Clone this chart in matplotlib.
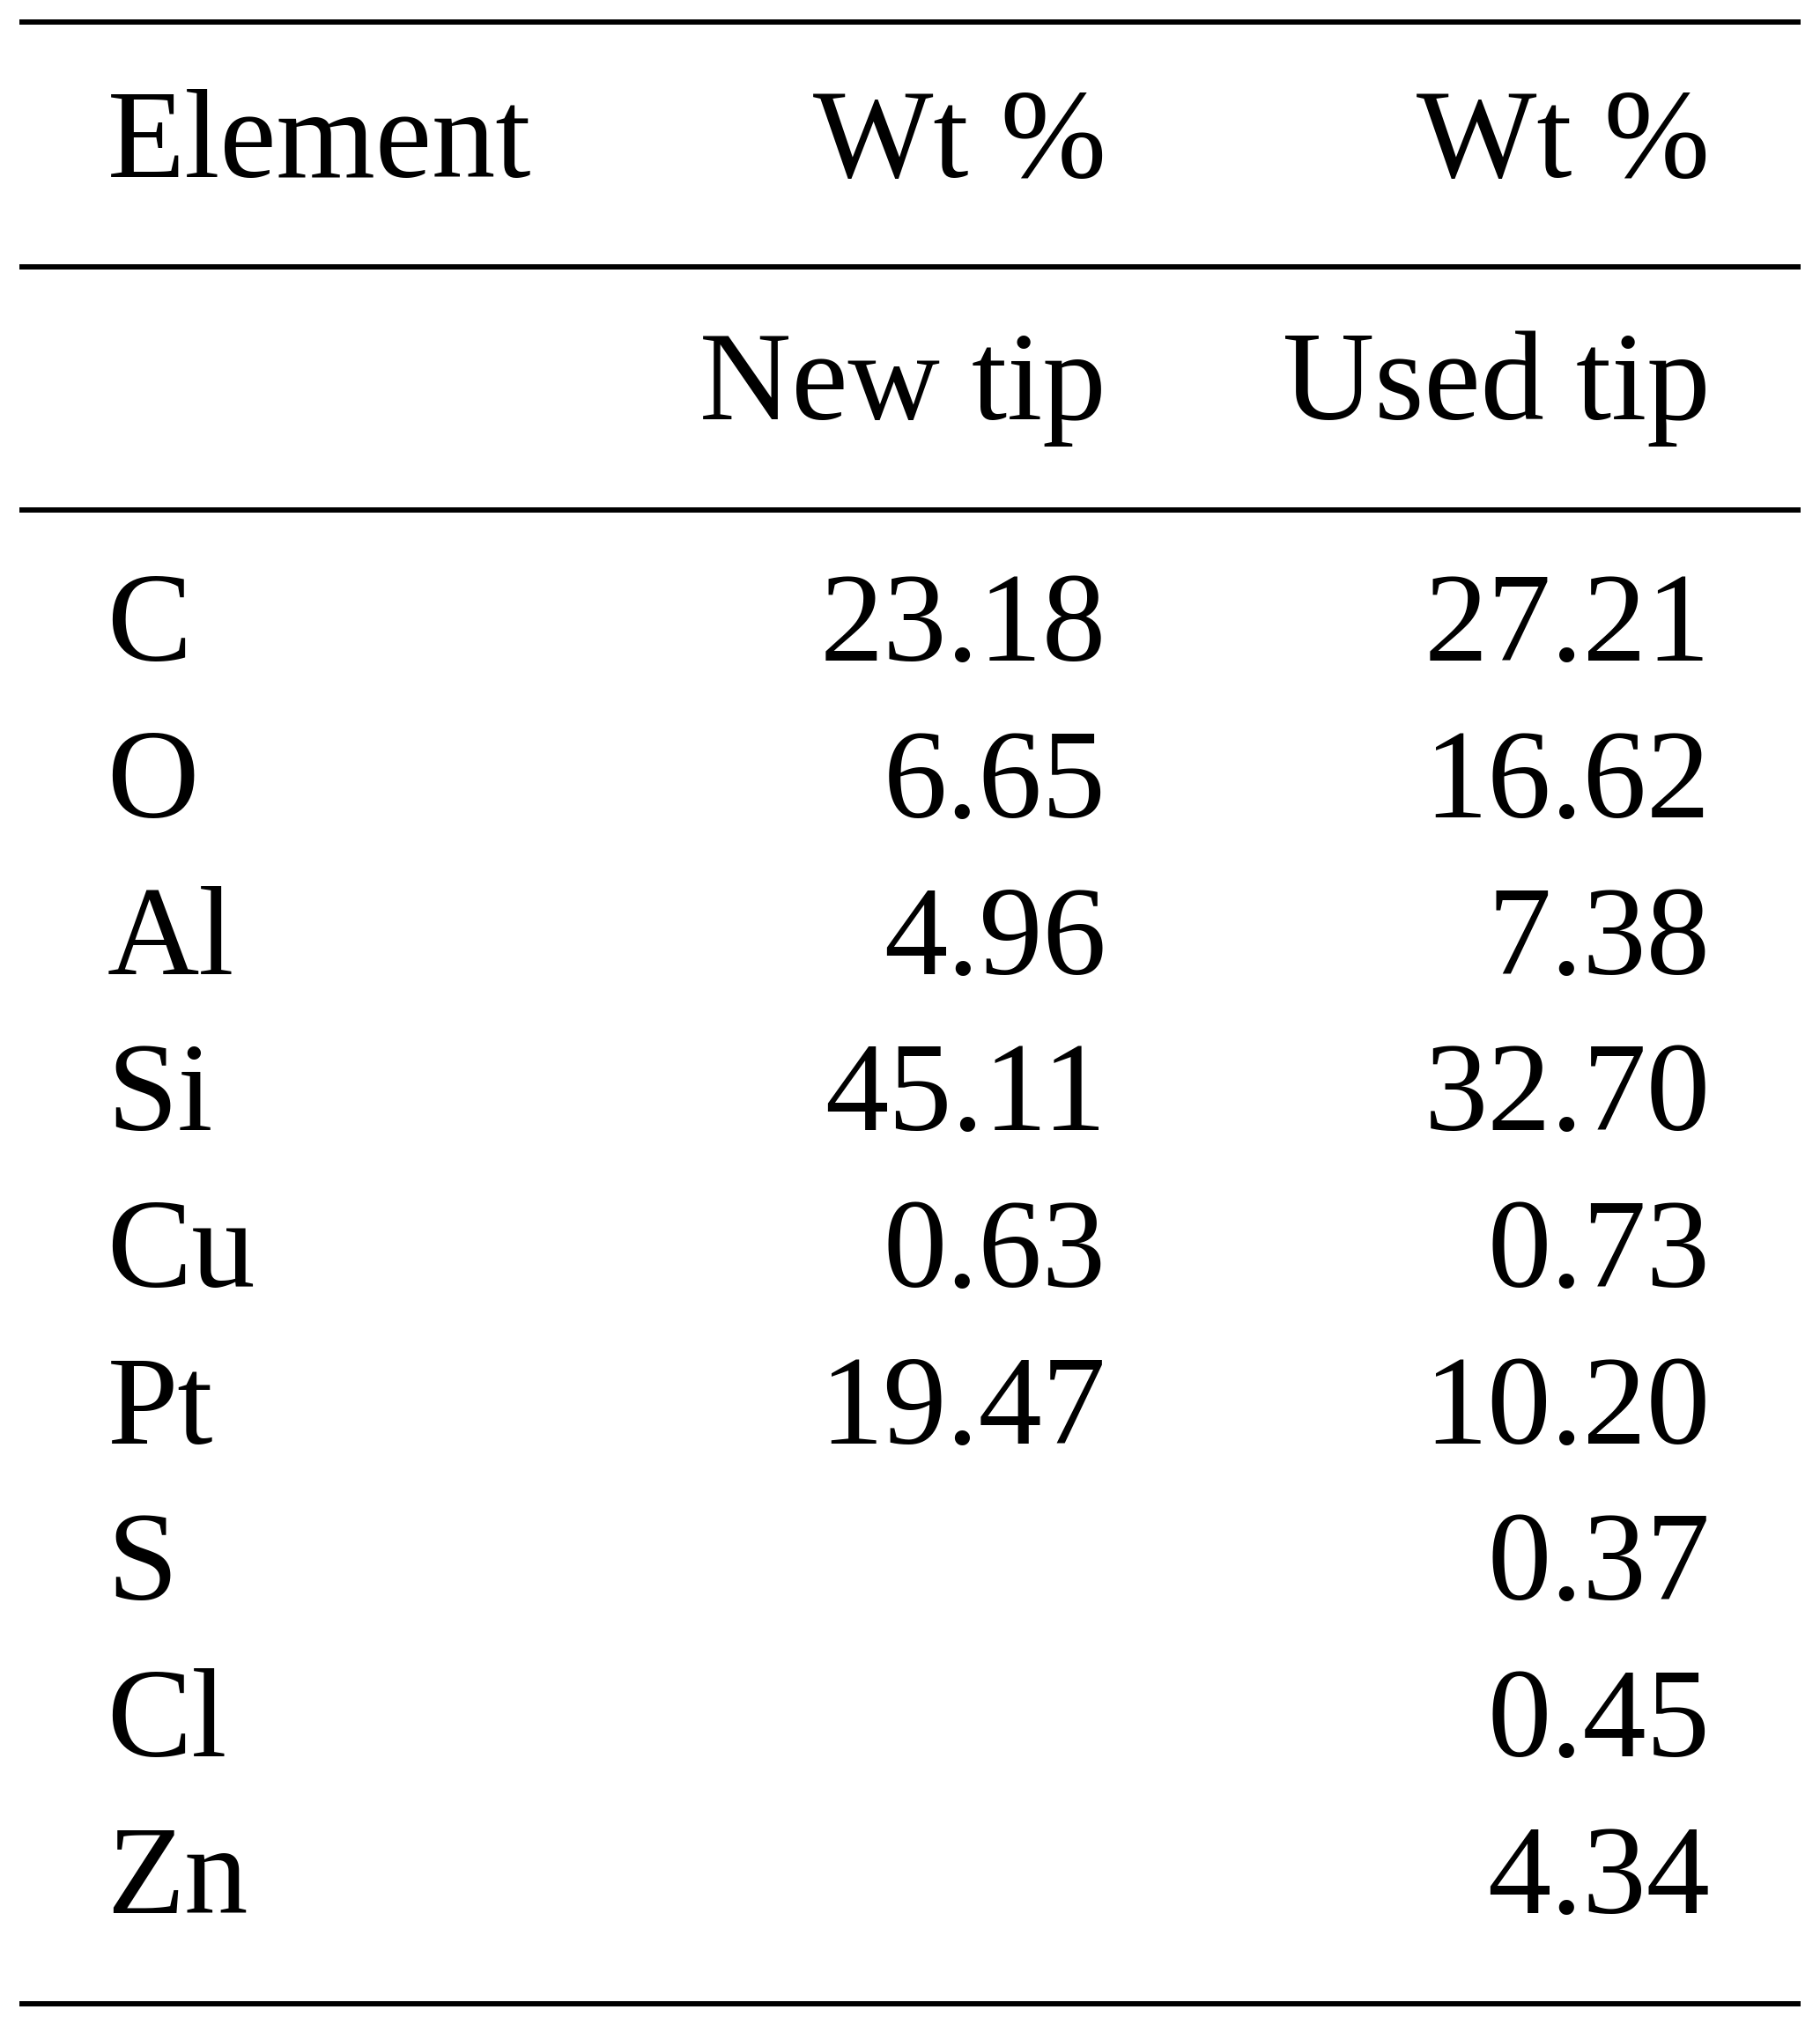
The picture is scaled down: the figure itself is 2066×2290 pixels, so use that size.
import matplotlib
matplotlib.use("Agg")
import matplotlib.pyplot as plt
from matplotlib.lines import Line2D

elements = ["C", "O", "Al", "Si", "Cu", "Pt", "S", "Cl", "Zn"]
new_tip = ["23.18", "6.65", "4.96", "45.11", "0.63", "19.47", "", "", ""]
used_tip = ["27.21", "16.62", "7.38", "32.70", "0.73", "10.20", "0.37", "0.45", "4.34"]
header1 = ["Element", "Wt %", "Wt %"]
header2 = ["", "New tip", "Used tip"]

W, H = 1410.0, 1563.0
fig = plt.figure(figsize=(20.66, 22.9), dpi=100)
fs = 104
font = dict(family="Liberation Serif", fontsize=fs, color="black", va="baseline")

def fx(x): return x / W
def fy(y): return 1 - y / H

for y in [17, 207, 395, 1553]:
    fig.add_artist(Line2D([fx(17), fx(1393)], [fy(y), fy(y)], color="black", lw=4.3))

xl, x2, x3 = 83, 857, 1325
def row(vals, yb):
    fig.text(fx(xl), fy(yb), vals[0], ha="left", **font)
    fig.text(fx(x2), fy(yb), vals[1], ha="right", **font)
    fig.text(fx(x3), fy(yb), vals[2], ha="right", **font)

row(header1, 137)
row(header2, 325)
for i, (e, a, b) in enumerate(zip(elements, new_tip, used_tip)):
    row([e, a, b], 512 + 121.3 * i)

fig.savefig("out.png", dpi=100, facecolor="white")
